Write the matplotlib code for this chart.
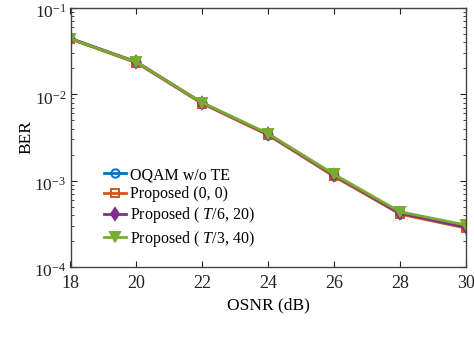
import matplotlib
matplotlib.use("Agg")
import matplotlib.pyplot as plt
from matplotlib.ticker import LogLocator, NullFormatter
from matplotlib.transforms import ScaledTranslation

osnr = [18, 20, 22, 24, 26, 28, 30]
ber_oqam = [0.0440, 0.0235, 0.00790, 0.00340, 0.00112, 0.000415, 0.000290]
ber_p00 = [0.0437, 0.0232, 0.00780, 0.00337, 0.00113, 0.000410, 0.000282]
ber_p620 = [0.0445, 0.0238, 0.00795, 0.00345, 0.00117, 0.000420, 0.000290]
ber_p340 = [0.0440, 0.0236, 0.00800, 0.00350, 0.00118, 0.000436, 0.000306]
labels = ["OQAM w/o TE", "Proposed (0, 0)",
          r"Proposed ( $\mathit{T}$/6, 20)", r"Proposed ( $\mathit{T}$/3, 40)"]

plt.rcParams['font.family'] = ['Liberation Serif', 'DejaVu Serif']
plt.rcParams['mathtext.fontset'] = 'custom'
plt.rcParams['mathtext.it'] = 'Liberation Serif:italic'
plt.rcParams['mathtext.rm'] = 'Liberation Serif'

fig = plt.figure(figsize=(4.74, 3.38), dpi=100)
ax = fig.add_axes([70.5/474, 1-267/338, (466-70.5)/474, (267-8)/338])

colors = ['#0072BD', '#D95319', '#7E2F8E', '#77AC30']
markers = ['o', 's', 'd', 'v']
series = [ber_oqam, ber_p00, ber_p620, ber_p340]
for s, c, m, l in zip(series, colors, markers, labels):
    ax.plot(osnr, s, color=c, marker=m, markersize=6 if m != 'v' else 7,
            markerfacecolor='none' if m in ('o', 's') else c,
            markeredgewidth=1.4, linewidth=2.0, label=l)

ax.set_yscale('log')
ax.set_xlim(18, 30)
ax.set_ylim(1e-4, 1e-1)
ax.set_xticks(osnr)
ax.yaxis.set_major_locator(LogLocator(base=10, numticks=10))
ax.yaxis.set_minor_locator(LogLocator(base=10, subs=range(2, 10), numticks=20))
ax.yaxis.set_minor_formatter(NullFormatter())
ax.tick_params(which='both', direction='in', top=True, right=True, colors='#222222')
ax.tick_params(axis='x', which='major', length=4, pad=6, labelsize=13)
ax.tick_params(axis='y', which='major', length=4, pad=3, labelsize=12.5)
ax.tick_params(which='minor', length=2)
fig.canvas.draw()
off = ScaledTranslation(0, -3/100, fig.dpi_scale_trans)
for lab in ax.get_yticklabels():
    lab.set_transform(lab.get_transform() + off)
for sp in ax.spines.values():
    sp.set_color('#444444')
    sp.set_linewidth(1.0)
ax.set_xlabel('OSNR (dB)', fontsize=12.5)
ax.xaxis.set_label_coords(0.5, -(297-267)/259)
ax.set_ylabel('BER', fontsize=12.5)
ax.yaxis.set_label_coords((34-70.5)/395.5, 0.5)
ax.legend(loc='upper left', bbox_to_anchor=((104-70.5)/395.5, 1-(167-8)/259), frameon=False,
          fontsize=11.5, handlelength=1.35, handletextpad=0.3, labelspacing=0.2,
          borderaxespad=0, borderpad=0)
fig.savefig('out.png', dpi=100, facecolor='white')
